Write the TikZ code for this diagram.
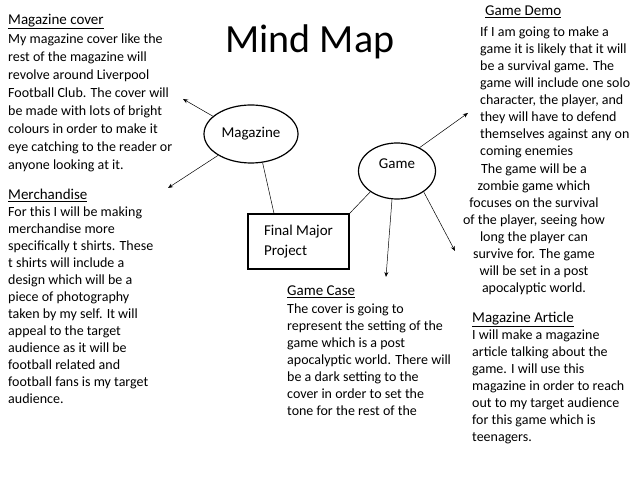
\documentclass[tikz,border=0pt]{standalone}
\usepackage{fontspec}
\setmainfont{Carlito}
\usetikzlibrary{shapes.geometric,arrows.meta}
\begin{document}
\begin{tikzpicture}[x=1pt,y=-1pt,
  body/.style={anchor=north west,align=left,font=\fontsize{14}{17}\selectfont,inner sep=0pt},
  ttl/.style={anchor=north west,font=\fontsize{15}{17}\selectfont,inner sep=0pt},
  bub/.style={draw,ellipse,line width=1.2pt,font=\fontsize{15}{17}\selectfont},
  arr/.style={-{Stealth[length=5pt,width=4pt]},line width=0.5pt},
  lnk/.style={line width=0.5pt}]
\useasboundingbox (0,0) rectangle (638,478);
\node[anchor=center,font=\fontsize{40}{42}\selectfont] (title) at (310,42) {Mind Map};
\node[ttl] (t1) at (8,14) {\underline{Magazine cover}};
\node[body,font=\fontsize{14}{18}\selectfont] (b1) at (8,34) {My magazine cover like the\\rest of the magazine will\\revolve around Liverpool\\Football Club. The cover will\\be made with lots of bright\\colours in order to make it\\eye catching to the reader or\\anyone looking at it.};
\node[ttl] (t2) at (8,189) {\underline{Merchandise}};
\node[body] (b2) at (8,207) {For this I will be making\\merchandise more\\specifically t shirts. These\\t shirts will include a\\design which will be a\\piece of photography\\taken by my self. It will\\appeal to the target\\audience as it will be\\football related and\\football fans is my target\\audience.};
\node[ttl] (t3) at (485,6) {\underline{Game Demo}};
\node[body] (b3) at (480,27) {If I am going to make a\\game it is likely that it will\\be a survival game. The\\game will include one solo\\character, the player, and\\they will have to defend\\themselves against any on\\coming enemies};
\node[body,align=center,anchor=north] (b3b) at (534,164) {The game will be a\\zombie game which\\focuses on the survival\\of the player, seeing how\\long the player can\\survive for. The game\\will be set in a post\\apocalyptic world.};
\node[ttl] (t4) at (287,286) {\underline{Game Case}};
\node[body] (b4) at (287,304) {The cover is going to\\represent the setting of the\\game which is a post\\apocalyptic world. There will\\be a dark setting to the\\cover in order to set the\\tone for the rest of the};
\node[ttl] (t5) at (472,312) {\underline{Magazine Article}};
\node[body] (b5) at (472,330) {I will make a magazine\\article talking about the\\game. I will use this\\magazine in order to reach\\out to my target audience\\for this game which is\\teenagers.};
\node[bub,minimum width=94pt,minimum height=58pt,inner sep=0pt] (mag) at (251,134) {Magazine};
\node[bub,minimum width=77pt,minimum height=56pt,inner sep=0pt] (game) at (397,171) {};
\node[font=\fontsize{15}{17}\selectfont] (gamet) at (397,164) {Game};
\node[draw,line width=1.2pt,minimum width=101pt,minimum height=55pt,align=left,font=\fontsize{15}{20}\selectfont] (fmp) at (298.5,241.5) {Final Major\\Project};
\coordinate (e1) at (183,99);
\coordinate (e2) at (168,188);
\coordinate (e3) at (468,113);
\coordinate (e4) at (386,277);
\coordinate (e5) at (455,251);
\draw[arr] (mag.155) -- (e1);
\draw[arr] (mag.213) -- (e2);
\draw[lnk] (mag.-68) -- (fmp.north west -| 274,0);
\draw[lnk] (game.218) -- (fmp.north east);
\draw[arr] (game.46) -- (e3);
\draw[arr] (game.-100) -- (e4);
\draw[arr] (game.-38) -- (e5);
\end{tikzpicture}
\end{document}
